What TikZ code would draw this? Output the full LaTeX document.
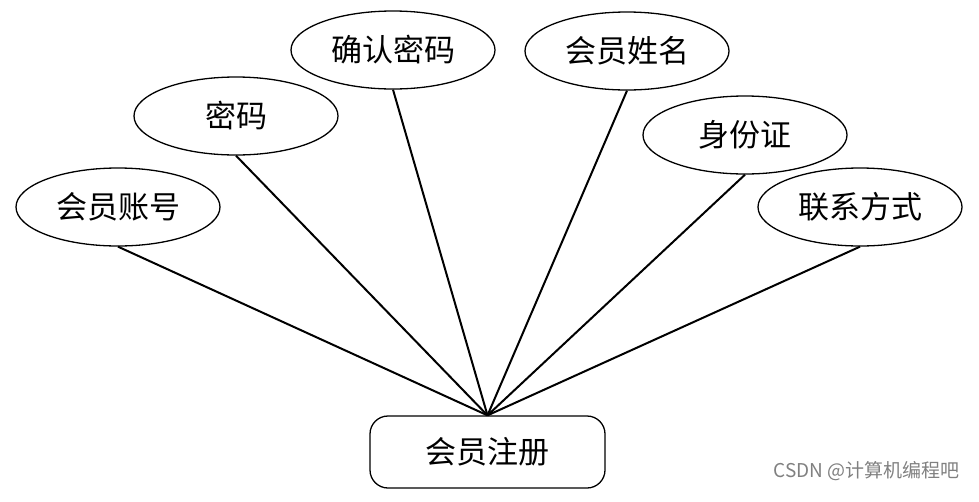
\documentclass[tikz,border=0pt]{standalone}
\usepackage{fontspec}
\newfontfamily\cjk{Noto Sans CJK SC}
\usepackage{tikz}
\usetikzlibrary{positioning, shapes.geometric}

\begin{document}
\begin{tikzpicture}[
  x=1pt, y=-1pt,
  font=\cjk\fontsize{31}{36}\selectfont,
  every node/.style={align=center},
  attr/.style={draw, ellipse, line width=1.3pt, inner sep=0pt,
               minimum width=204pt, minimum height=78pt},
  entity/.style={draw, rounded corners=18pt, line width=1.3pt,
                 minimum width=235pt, minimum height=72pt},
  link/.style={line width=2pt}
]
\useasboundingbox (0,0) rectangle (979,501);

\node[entity] (zhuce) at (487.5,452) {会员注册};

\node[attr] (zhanghao) at (118,207) {会员账号};
\node[attr] (mima)     at (236,116) {密码};
\node[attr] (queren)   at (393,50)  {确认密码};
\node[attr] (xingming) at (627,51)  {会员姓名};
\node[attr] (shenfen)  at (745,135) {身份证};
\node[attr] (lianxi)   at (860,207) {联系方式};

\draw[link] (zhanghao.south) -- (zhuce.north);
\draw[link] (mima.south)     -- (zhuce.north);
\draw[link] (queren.south)   -- (zhuce.north);
\draw[link] (xingming.south) -- (zhuce.north);
\draw[link] (shenfen.south)  -- (zhuce.north);
\draw[link] (lianxi.south)   -- (zhuce.north);

% watermark
\node[gray, font=\cjk\fontsize{19}{22}\selectfont, anchor=east] (mark) at (963,471)
  {CSDN @计算机编程吧};

\end{tikzpicture}
\end{document}
